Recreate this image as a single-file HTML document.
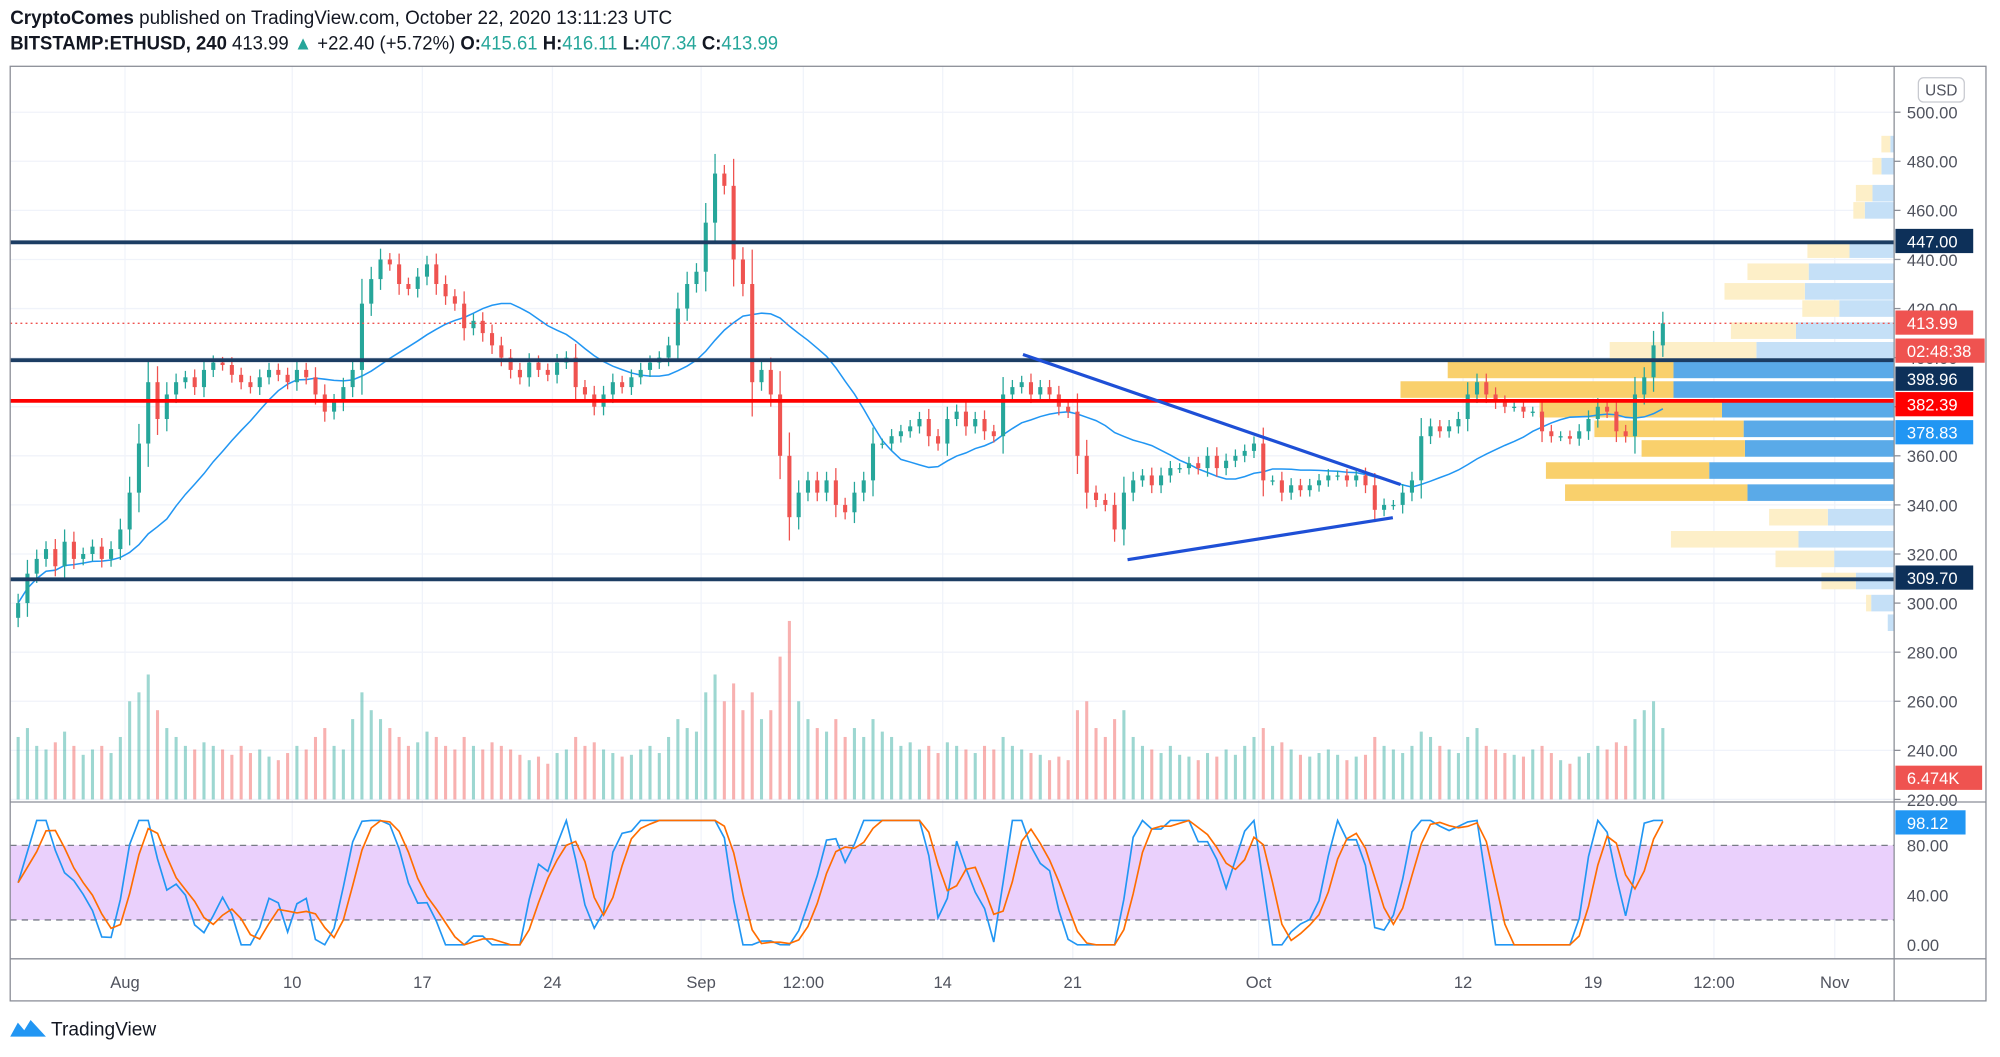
<!DOCTYPE html>
<html><head><meta charset="utf-8"><style>
html,body{margin:0;padding:0;background:#fff;width:2000px;height:1057px;overflow:hidden}
svg{display:block;font-family:"Liberation Sans",sans-serif}
</style></head><body>
<svg id="chart" width="2000" height="1057" viewBox="0 0 1568 829" preserveAspectRatio="none" xmlns="http://www.w3.org/2000/svg">
<text x="8" y="19" font-size="15" fill="#131722" textLength="519" lengthAdjust="spacingAndGlyphs"><tspan font-weight="bold">CryptoComes</tspan> published on TradingView.com, October 22, 2020 13:11:23 UTC</text>
<text x="8" y="39" font-size="15" fill="#131722" textLength="602" lengthAdjust="spacingAndGlyphs"><tspan font-weight="bold">BITSTAMP:ETHUSD, 240</tspan> 413.99 <tspan fill="#26a69a">▲</tspan> +22.40 (+5.72%) <tspan font-weight="bold">O:</tspan><tspan fill="#26a69a">415.61</tspan> <tspan font-weight="bold">H:</tspan><tspan fill="#26a69a">416.11</tspan> <tspan font-weight="bold">L:</tspan><tspan fill="#26a69a">407.34</tspan> <tspan font-weight="bold">C:</tspan><tspan fill="#26a69a">413.99</tspan></text>
<g id="grid"></g>
<g id="vprofile"></g>
<g id="vol"></g>
<g id="stoch"></g>
<g id="ma"></g>
<g id="candles"></g>
<g id="levels"></g>
<g id="axes"></g>
<rect x="8" y="52" width="1549" height="733" fill="none" stroke="#8a8d96" stroke-width="1"/>
<line x1="1485" y1="52" x2="1485" y2="785" stroke="#8a8d96"/>
<line x1="8" y1="629" x2="1557" y2="629" stroke="#8a8d96"/>
<line x1="8" y1="752" x2="1557" y2="752" stroke="#8a8d96"/>
<g>
<path d="M8 813 L14 802 L19 808 L24 800 L36 813 Z" fill="#2196f3"/>
<text x="40" y="812" font-size="15" fill="#131722">TradingView</text>
</g>
</svg>
<script>
const closes=[300,312,318,322,315,325,318,320,323,318,322,330,
345,365,390,375,385,390,392,388,395,398,397,393,390,388,392,395,393,390,395,392,385,378,382,388,395,422,432,440,438,430,428,433,438,430,425,422,412,415,410,405,400,395,392,398,395,393,398,400,388,385,380,385,390,388,392,395,398,400,405,420,430,435,
455,475,470,440,430,390,395,385,360,335,345,350,345,350,340,337,345,350,365,365,368,370,372,375,368,365,375,378,372,375,370,368,385,388,390,385,388,385,380,378,360,345,342,340,330,345,350,352,348,352,355,355,357,355,360,355,358,360,362,365,
350,350,345,348,346,348,350,352,352,350,352,348,338,340,340,345,350,368,372,370,372,375,385,390,385,382,380,380,378,378,370,368,368,367,370,375,380,378,370,368,385,392,405,414];
const volumes=[35,40,30,28,32,38,30,25,28,30,26,35,
55,60,70,50,40,35,30,28,32,30,28,25,30,26,28,24,22,26,30,28,35,40,30,28,45,60,50,45,40,35,30,32,38,35,30,28,35,30,28,32,30,28,25,22,24,20,26,28,35,30,32,28,26,24,25,28,30,26,35,45,40,38,
60,70,55,65,50,60,45,50,80,100,55,45,40,38,45,35,40,35,45,38,35,30,32,28,30,26,32,30,28,26,30,28,35,30,28,26,25,22,24,22,50,55,40,35,45,50,35,30,28,26,30,25,24,22,26,24,28,25,30,35,
40,30,32,28,25,24,26,28,25,22,24,25,35,30,28,26,30,38,35,30,28,26,35,40,30,28,26,25,24,28,30,26,22,20,24,26,30,28,32,30,45,50,55,40];
const pvPrice=[487,478,467,460,444,435,427,420,411,403,395,387,379,371,363,354,345,335,326,318,309,300,292];
const pvDown=[7,7,13,9,33,48,63,29,51,115,177,214,143,117,81,128,143,46,100,46,27,4,0];
const pvUp=[3,10,17,23,35,67,70,43,77,108,173,173,135,118,117,145,115,52,75,47,30,18,5];
const yTicks=[500,480,460,440,420,400,380,360,340,320,300,280,260,240,220];
const stochTicks=[80,40,0];
const timeLabels=["Aug","10","17","24","Sep","12:00","14","21","Oct","12","19","12:00","Nov"];
const timeDays=[0,9,16,23,31,36.5,44,51,61,72,79,85.5,92];

const NS="http://www.w3.org/2000/svg";
function mk(tag,attrs,parent){const e=document.createElementNS(NS,tag);for(const k in attrs)e.setAttribute(k,attrs[k]);parent.appendChild(e);return e;}
const py=p=>88+(500-p)*1.925;
const dx=d=>98+d*14.57;
const cx=i=>dx(-6+i*0.5+0.25);
const sy=v=>741-v*0.975;
const vy=v=>627-v*1.4;
const G=id=>document.getElementById(id);

const grid=G('grid');
yTicks.forEach(t=>{const l=mk('line',{x1:8,x2:1485,y1:py(t),y2:py(t),stroke:'#f0f3fa'},grid);

});
timeDays.forEach(d=>{const l=mk('line',{x1:dx(d),x2:dx(d),y1:52,y2:752,stroke:'#f0f3fa'},grid);

});

const vp=G('vprofile');
pvPrice.forEach((p,i)=>{const inVA=p>=340&&p<=400;const h=13;const y=py(p)-h/2;
const up=pvUp[i],dn=pvDown[i];
const b=mk('rect',{x:1485-up,y:y,width:up,height:h,fill:inVA?'#5aaae8':'#c5e0f7'},vp);


const yy=mk('rect',{x:1485-up-dn,y:y,width:dn,height:h,fill:inVA?'#f9d06c':'#fdefc8'},vp);

});

const cg=G('candles'),vg=G('vol');
closes.forEach((c,i)=>{const o=i?closes[i-1]:c-6;const up=c>=o;const col=up?'#26a69a':'#ef5350';
const hi=Math.max(o,c)+2+Math.abs(c-o)*0.3,lo=Math.min(o,c)-2-Math.abs(c-o)*0.3;const x=cx(i);
const w=mk('line',{x1:x,x2:x,y1:py(hi),y2:py(lo),stroke:col,'stroke-width':1},cg);


const bt=Math.max(py(Math.max(o,c)),0);const bh=Math.max(Math.abs(py(o)-py(c)),1);
const r=mk('rect',{x:x-1.6,y:bt,width:3.2,height:bh,fill:col},cg);


const v=mk('rect',{x:x-1.2,y:vy(volumes[i]),width:2.4,height:volumes[i]*1.4,fill:up?'rgba(38,166,154,0.45)':'rgba(239,83,80,0.45)'},vg);

});

let pts=[];closes.forEach((c,i)=>{const s=Math.max(0,i-16);const arr=closes.slice(s,i+1);const m=arr.reduce((a,b)=>a+b,0)/arr.length;pts.push(cx(i).toFixed(1)+','+py(m).toFixed(1));});
const ma=mk('polyline',{points:pts.join(' '),fill:'none',stroke:'#2196f3','stroke-width':1.2},G('ma'));



const sg=G('stoch');
const band=mk('rect',{x:8,y:sy(80),width:1477,height:sy(20)-sy(80),fill:'#ead0fc'},sg);


[80,20].forEach(v=>{const l=mk('line',{x1:8,x2:1485,y1:sy(v),y2:sy(v),stroke:'#787b86','stroke-dasharray':'5,4'},sg);

});
const rsi=[];let ag=0,al=0;
closes.forEach((c,i)=>{if(i===0){rsi.push(50);return;}const ch=c-closes[i-1];const g=Math.max(ch,0),l=Math.max(-ch,0);const n=Math.min(i,6);ag=(ag*(n-1)+g)/n;al=(al*(n-1)+l)/n;rsi.push(al===0?100:100-100/(1+ag/al));});
const st=rsi.map((r,i)=>{const w=rsi.slice(Math.max(0,i-7),i+1);const mn=Math.min(...w),mx=Math.max(...w);return mx===mn?50:(r-mn)/(mx-mn)*100;});
const sm=(a,n)=>a.map((_,i)=>{const w=a.slice(Math.max(0,i-n+1),i+1);return w.reduce((x,y)=>x+y,0)/w.length;});
const K=sm(st,2),D=sm(K,3);
const kl=mk('polyline',{points:K.map((v,i)=>cx(i).toFixed(1)+','+sy(v).toFixed(1)).join(' '),fill:'none',stroke:'#2196f3','stroke-width':1.3},sg);


const dl=mk('polyline',{points:D.map((v,i)=>cx(i).toFixed(1)+','+sy(v).toFixed(1)).join(' '),fill:'none',stroke:'#ff6d00','stroke-width':1.3},sg);



const lg=G('levels');
function hl(p,col,w,name,dash){const l=mk('line',{x1:8,x2:1485,y1:py(p),y2:py(p),stroke:col,'stroke-width':w},lg);if(dash)l.setAttribute('stroke-dasharray',dash);

}
hl(413.99,'#ef5350',1,'last-price-line','1.5,2.5');
hl(447,'#1c3d63',3,'resistance-447');
hl(398.96,'#1c3d63',3,'resistance-399');
hl(382.39,'#ff0000',3,'support-382');
hl(309.70,'#1c3d63',3,'support-310');
const t1=mk('line',{x1:802,y1:278,x2:1098,y2:380,stroke:'#1e4fd6','stroke-width':2.5},lg);


const t2=mk('line',{x1:884,y1:439,x2:1092,y2:406,stroke:'#1e4fd6','stroke-width':2.5},lg);



const ag2=G('axes');
yTicks.forEach(t=>{mk('line',{x1:1485,x2:1490,y1:py(t),y2:py(t),stroke:'#8a8d96'},ag2);
const tx=mk('text',{x:1495,y:py(t)+5,'font-size':13,fill:'#50535e'},ag2);tx.textContent=t.toFixed(2);

});
stochTicks.forEach(t=>{const tx=mk('text',{x:1495,y:sy(t)+5,'font-size':13,fill:'#50535e'},ag2);tx.textContent=t.toFixed(2);

});
timeLabels.forEach((s,i)=>{const tx=mk('text',{x:dx(timeDays[i]),y:775,'font-size':13,fill:'#50535e','text-anchor':'middle'},ag2);tx.textContent=s;

});
function tag(y,txt,bg,name,w){const r=mk('rect',{x:1486,y:y-9.5,width:w||61,height:19,fill:bg},ag2);


const t=mk('text',{x:1495,y:y+5,'font-size':13,fill:'#fff'},ag2);t.textContent=txt;}
tag(189,'447.00','#0d3059','label-447');
tag(253,'413.99','#ef5350','label-last-price');
tag(275,'02:48:38','#ef5350','label-countdown',70);
tag(297,'398.96','#0d3059','label-399');
tag(317,'382.39','#ff0000','label-382');
tag(339,'378.83','#2196f3','label-ma');
tag(453,'309.70','#0d3059','label-310');
tag(610,'6.474K','#ef5350','label-volume',68);
tag(645,'98.12','#2196f3','label-stoch',55);
const u=mk('rect',{x:1504,y:61,width:36,height:19,rx:4,fill:'#fff',stroke:'#c8cad0'},ag2);


const ut=mk('text',{x:1522,y:75,'font-size':12,fill:'#50535e','text-anchor':'middle'},ag2);ut.textContent='USD';
</script>
</body></html>
